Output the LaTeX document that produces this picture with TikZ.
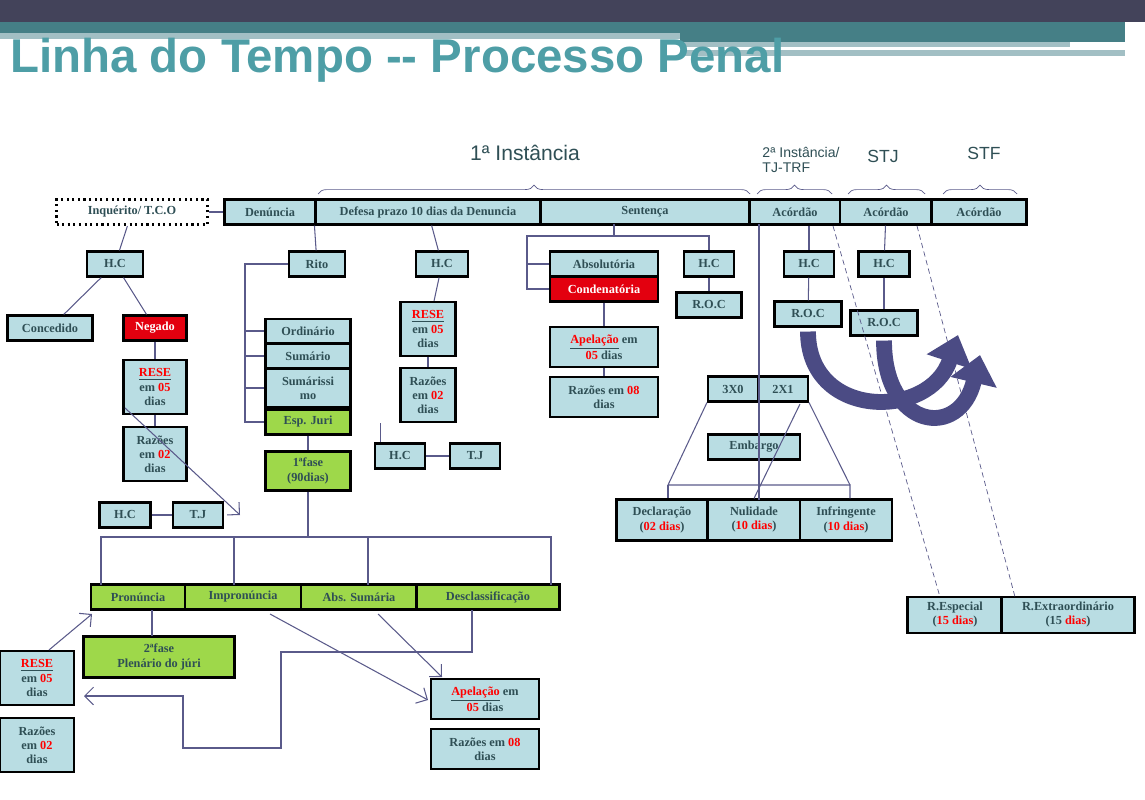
\documentclass[tikz,border=0pt]{standalone}
\usepackage{fontspec}
\setmainfont{Liberation Serif}
\newfontfamily\headfont{Liberation Sans}
\usetikzlibrary{arrows.meta,decorations.pathreplacing}
\definecolor{boxfill}{HTML}{B9DDE3}
\definecolor{boxtext}{HTML}{2F4F55}
\definecolor{greenfill}{HTML}{9ED84A}
\definecolor{redfill}{HTML}{E3000F}
\definecolor{linkcol}{HTML}{5A5A8A}
\definecolor{bandA}{HTML}{43435A}
\definecolor{bandB}{HTML}{457F86}
\definecolor{bandC}{HTML}{A2BFC4}
\definecolor{titlecol}{HTML}{4E9EA6}
\definecolor{bigarrow}{HTML}{4B4B84}
\newcommand{\rn}[1]{\textcolor{red}{#1}}
\begin{document}
\begin{tikzpicture}
	    [x=0.02cm, y=-0.02cm,
	     box/.style={rectangle, fill=boxfill, draw=black, line width=1.2pt, text=boxtext,
	        font=\fontsize{7}{8}\selectfont\bfseries, align=center, inner sep=1pt,
	        minimum width=#1*0.02cm, minimum height=25*0.02cm},
	     box/.default=56,
	     green/.style={fill=greenfill},
	     red/.style={fill=redfill, text=white},
	     tall/.style={minimum height=#1*0.02cm},
	     link/.style={draw=linkcol, line width=0.6pt},
	     arr/.style={link, -{Straight Barb[length=5pt]}},
	     brace/.style={draw=linkcol, decorate, decoration={brace, amplitude=5pt}},
	     tip/.style={font=\headfont\fontsize{8}{9}\selectfont, text=boxtext, align=center}]
	    \useasboundingbox (0,0) rectangle (1145,800);
	    % header bands
	    \fill[bandA] (0,0) rectangle (1145,22);
	    \fill[bandB] (0,22) rectangle (1125,37);
	    \fill[bandB] (680,37) rectangle (1125,42);
	    \fill[bandC] (0,33) rectangle (680,39);
	    \fill[bandC] (680,42) rectangle (1070,47);
	    \fill[bandC] (680,50) rectangle (1125,56);
	    \node[font=\headfont\bfseries\fontsize{27}{30}\selectfont, text=titlecol, anchor=west] (title) at (4,60) {Linha do Tempo -- Processo Penal};
	    % top row
	    \node[box=151, fill=white, draw, dotted, line width=1.8pt] (inq) at (132,212) {Inquérito/ T.C.O};
	    \node[box=91]  (den)  at (270,212) {Denúncia};
	    \node[box=225] (def)  at (428,212) {Defesa prazo 10 dias da Denuncia};
	    \node[box=209] (sent) at (645,212) {Sentença};
	    \node[box=90]  (ac1)  at (795,212) {Acórdão};
	    \node[box=92]  (ac2)  at (886,212) {Acórdão};
	    \node[box=95]  (ac3)  at (979,212) {Acórdão};
	    \coordinate (b1a) at (318,194); \coordinate (b1b) at (750,194);
	    \coordinate (b2a) at (757,194); \coordinate (b2b) at (832,194);
	    \coordinate (b3a) at (848,194); \coordinate (b3b) at (925,194);
	    \coordinate (b4a) at (943,194); \coordinate (b4b) at (1017,194);
	    \draw[brace] (b1a) -- (b1b);
	    \draw[brace] (b2a) -- (b2b);
	    \draw[brace] (b3a) -- (b3b);
	    \draw[brace] (b4a) -- (b4b);
	    \node[tip, font=\headfont\fontsize{12}{14}\selectfont] (inst1) at (525,153) {1ª Instância};
	    \node[tip, align=left] (inst2) at (801,160) {2ª Instância/\\TJ-TRF};
	    \node[tip, font=\headfont\fontsize{10}{12}\selectfont] (stj) at (883,156) {STJ};
	    \node[tip, font=\headfont\fontsize{10}{12}\selectfont] (stf) at (984,153) {STF};
	    \draw[link] (inq) -- (den);
	    % inquerito branch
	    \node[box]             (hc1)  at (115,264) {H.C};
	    \node[box=85]          (conc) at (50,328)  {Concedido};
	    \node[box=63, red]     (neg)  at (155,328) {Negado};
	    \node[box=63, tall=54] (rese1) at (155,387) {\underline{\rn{RESE}}\\em \rn{05}\\dias};
	    \node[box=63, tall=54] (raz1) at (155,454) {Razões\\em \rn{02}\\dias};
	    \node[box=51]          (hc2)  at (125,515) {H.C};
	    \node[box=50]          (tj2)  at (198,515) {T.J};
	    \coordinate (a1) at (240,515);
	    \draw[link] (inq) -- (hc1);
	    \draw[link] (hc1) -- (conc);
	    \draw[link] (hc1) -- (neg);
	    \draw[link] (neg) -- (rese1);
	    \draw[link] (rese1) -- (raz1);
	    \draw[link] (hc2) -- (tj2);
	    \draw[arr] (125,408) -- (a1);
	    % rito
	    \node[box]                (rito) at (317,264) {Rito};
	    \node[box=85, tall=24]    (ord)  at (308,331) {Ordinário};
	    \node[box=85, tall=24]    (sum)  at (308,356) {Sumário};
	    \node[box=85, tall=39]    (sss)  at (308,388) {Sumárissi\\mo};
	    \node[box=85, green]      (esp)  at (308,422) {Esp. Juri};
	    \node[box=85, tall=39, green] (fase1) at (308,471) {1ªfase\\(90dias)};
	    \draw[link] (def.south west) ++(0,0) -- (rito);
	    \draw[link] (rito.west) -| (245,422) -- (esp.west);
	    \draw[link] (245,331) -- (ord.west);
	    \draw[link] (245,356) -- (sum.west);
	    \draw[link] (245,388) -- (sss.west);
	    \draw[link] (esp) -- (fase1);
	    % defesa branch
	    \node[box=52]          (hc3)  at (442,264) {H.C};
	    \node[box=55, tall=54] (rese3) at (428,329) {\underline{\rn{RESE}}\\em \rn{05}\\dias};
	    \node[box=55, tall=54] (raz3) at (428,395) {Razões\\em \rn{02}\\dias};
	    \node[box=50]          (hc4)  at (400,456) {H.C};
	    \node[box=50]          (tj4)  at (475,456) {T.J};
	    \draw[link] (def) -- (hc3);
	    \draw[link] (hc3) -- (rese3);
	    \draw[link] (rese3) -- (raz3);
	    \draw[link] (raz3.south west) ++(-19,0) coordinate (c4) -- (c4 |- hc4.north);
	    \draw[link] (hc4) -- (tj4);
	    % sentenca branch
	    \node[box=108]          (abs)  at (604,264) {Absolutória};
	    \node[box=108, red]     (cond) at (604,289) {Condenatória};
	    \node[box=108, tall=40] (apel1) at (604,347) {\underline{\rn{Apelação}} em\\\rn{05} dias};
	    \node[box=108, tall=40] (raz8) at (604,397) {Razões em \rn{08}\\dias};
	    \node[box=50]           (hc5)  at (709,264) {H.C};
	    \node[box=65]           (roc5) at (709,305) {R.O.C};
	    \draw[link] (614,224) |- (527,236) |- (cond.west);
	    \draw[link] (527,264) -- (abs.west);
	    \draw[link] (614,236) -| (hc5);
	    \draw[link] (hc5) -- (roc5);
	    \draw[link] (cond) -- (apel1);
	    \draw[link] (apel1) -- (raz8);
	    % acordao branch
	    \node[box=50]           (x30)  at (733,389) {3X0};
	    \node[box=50]           (x21)  at (783,389) {2X1};
	    \node[box=92]           (emb)  at (754,447) {Embargo};
	    \node[box=91, tall=41]  (decl) at (662,520) {Declaração\\(\rn{02 dias})};
	    \node[box=92, tall=41]  (nul)  at (754,520) {Nulidade\\(\rn{10 dias})};
	    \node[box=92, tall=41]  (infr) at (846,520) {Infringente\\(\rn{10 dias})};
	    \draw[link] (759,224) -- (759,500);
	    \draw[link] (x30.south west) -- (668,485) -- (850,485) -- (infr.north -| 850,0);
	    \draw[link] (668,485) -- (decl.north -| 668,0);
	    \draw[link] (x21.south east) -- (850,485);
	    \draw[link] (800,404) -- (nul.north);
	    \node[box=50]           (hc6)  at (809,264) {H.C};
	    \node[box=67]           (roc6) at (808,314) {R.O.C};
	    \node[box=51]           (hc7)  at (884,264) {H.C};
	    \node[box=67]           (roc7) at (884,323) {R.O.C};
	    \draw[link] (ac1) ++(14,0) coordinate (c6) (c6 |- ac1.south) -- (hc6);
	    \draw[link] (hc6) -- (roc6);
	    \draw[link] (ac2) -- (hc7);
	    \draw[link] (hc7) -- (roc7);
	    \node[box=95, tall=36]  (resp) at (955,615) {R.Especial\\(\rn{15 dias})};
	    \node[box=133, tall=36] (rext) at (1068,615) {R.Extraordinário\\(15 \rn{dias})};
	    \draw[link, densely dashed, line width=0.4pt] (833,226) -- (940,597);
	    \draw[link, densely dashed, line width=0.4pt] (917,226) -- (1015,597);
	    % big curved arrows
	    \draw[bigarrow, line width=9pt, -{Triangle[length=16pt, width=26pt]}]
	      (roc6.south) ++(0,4) .. controls (808,420) and (930,420) .. (958,335);
	    \draw[bigarrow, line width=9pt, -{Triangle[length=16pt, width=26pt]}]
	      (roc7.south) ++(0,4) .. controls (884,430) and (960,440) .. (980,355);
	    % juri
	    \node[box=94, green]    (pron)  at (138,597) {Pronúncia};
	    \node[box=116, green]   (impr)  at (243,597) {Impronúncia};
	    \node[box=116, green]   (abss)  at (359,597) {Abs. Sumária};
	    \node[box=143, green]   (desc)  at (488,597) {Desclassificação};
	    \node[box=151, tall=41, green] (fase2) at (159,657) {2ªfase\\Plenário do júri};
	    \node[box=74, tall=54]  (rese2) at (37,678) {\underline{\rn{RESE}}\\em \rn{05}\\dias};
	    \node[box=74, tall=54]  (raz2)  at (37,745) {Razões\\em \rn{02}\\dias};
	    \node[box=108, tall=40] (apel2) at (485,699) {\underline{\rn{Apelação}} em\\\rn{05} dias};
	    \node[box=108, tall=40] (raz28) at (485,749) {Razões em \rn{08}\\dias};
	    \draw[link] (fase1) -- (308,537);
	    \draw[link] (101,585) |- (551,537) -- (551,585);
	    \draw[link] (234,537) -- (234,585);
	    \draw[link] (368,537) -- (368,585);
	    \draw[link] (152,610) -- (152,636);
	    \draw[arr] (rese2.north) ++(12,0) -- (92,614);
	    \draw[arr] (270,614) -- (428,700);
	    \draw[arr] (378,614) -- (442,677);
	    \coordinate (ret) at (84,696);
	    \draw[arr] (472,610) -- (472,652) -- (281,652) -- (281,748) -- (183,748) -- (183,696) -- (ret);
	\end{tikzpicture}
\end{document}
